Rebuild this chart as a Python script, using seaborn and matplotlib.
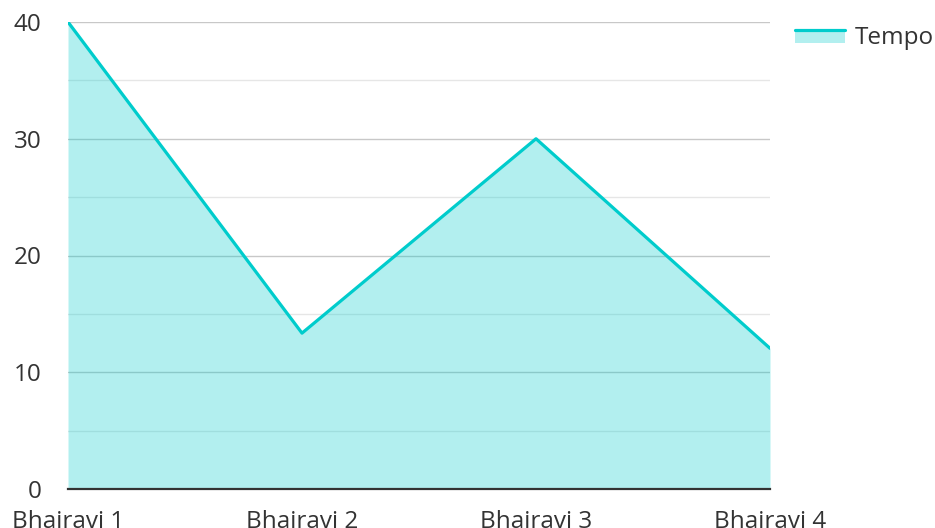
import matplotlib
matplotlib.use("Agg")
import matplotlib.pyplot as plt
import seaborn as sns
import pandas as pd
from matplotlib.legend_handler import HandlerBase
from matplotlib.patches import Rectangle
from matplotlib.lines import Line2D
from matplotlib.ticker import MultipleLocator

categories = ["Bhairavi 1", "Bhairavi 2", "Bhairavi 3", "Bhairavi 4"]
tempo = [40, 13.35, 30, 12.05]
series_name = "Tempo"

LINE = "#00cccc"
FILL_ALPHA = 0.3
TEXT = "#333333"
FS = 17.5

sns.set_theme(style="white")
plt.rcParams["font.family"] = ["Open Sans", "DejaVu Sans"]

df = pd.DataFrame({"cat": categories, "val": tempo, "series": series_name})
df["x"] = range(len(categories))

fig = plt.figure(figsize=(9.35, 5.28), dpi=100)
ax = fig.add_axes([68 / 935, 39 / 528, 702 / 935, 467 / 528])

ax.fill_between(df["x"], 0, df["val"], color=LINE, alpha=FILL_ALPHA,
                linewidth=0, zorder=2)
sns.lineplot(data=df, x="x", y="val", ax=ax, color=LINE, linewidth=2.3,
             legend=False, zorder=3)

ax.set_xlim(0, len(categories) - 1)
ax.set_ylim(0, 40)
ax.set_xticks(df["x"])
ax.set_xticklabels(categories)
ax.yaxis.set_major_locator(MultipleLocator(10))
ax.yaxis.set_minor_locator(MultipleLocator(5))
ax.set_axisbelow(True)
ax.grid(which="major", axis="y", color="#c8c8c8", linewidth=1.0, zorder=1)
ax.grid(which="minor", axis="y", color="#e6e6e6", linewidth=1.0, zorder=1)
ax.grid(False, axis="x")
for s in ["left", "right", "top"]:
    ax.spines[s].set_visible(False)
ax.spines["bottom"].set_color("#333333")
ax.spines["bottom"].set_linewidth(1.6)
ax.spines["bottom"].set_zorder(4)
ax.tick_params(axis="both", which="both", length=0, labelsize=FS, colors=TEXT)
ax.tick_params(axis="y", pad=19)
ax.tick_params(axis="x", pad=15)
ax.set_xlabel("")
ax.set_ylabel("")


class AreaHandler(HandlerBase):
    def create_artists(self, legend, orig_handle, xdescent, ydescent, width,
                       height, fontsize, trans):
        x0, y0 = -xdescent, -ydescent
        h = height * 0.85
        r = Rectangle((x0, y0), width, h, facecolor=LINE, alpha=FILL_ALPHA,
                      edgecolor="none", transform=trans)
        ln = Line2D([x0, x0 + width], [y0 + h, y0 + h], color=LINE,
                    linewidth=2.3, transform=trans)
        return [r, ln]


handle = Rectangle((0, 0), 1, 1)
fig.legend([handle], [series_name], handler_map={Rectangle: AreaHandler()},
           loc="upper left", bbox_to_anchor=(795 / 935, 1 - 26 / 528),
           frameon=False, fontsize=FS, handlelength=2.05, handleheight=0.6,
           handletextpad=0.4, labelcolor=TEXT, borderaxespad=0, borderpad=0)

fig.savefig("out.png", dpi=100)
